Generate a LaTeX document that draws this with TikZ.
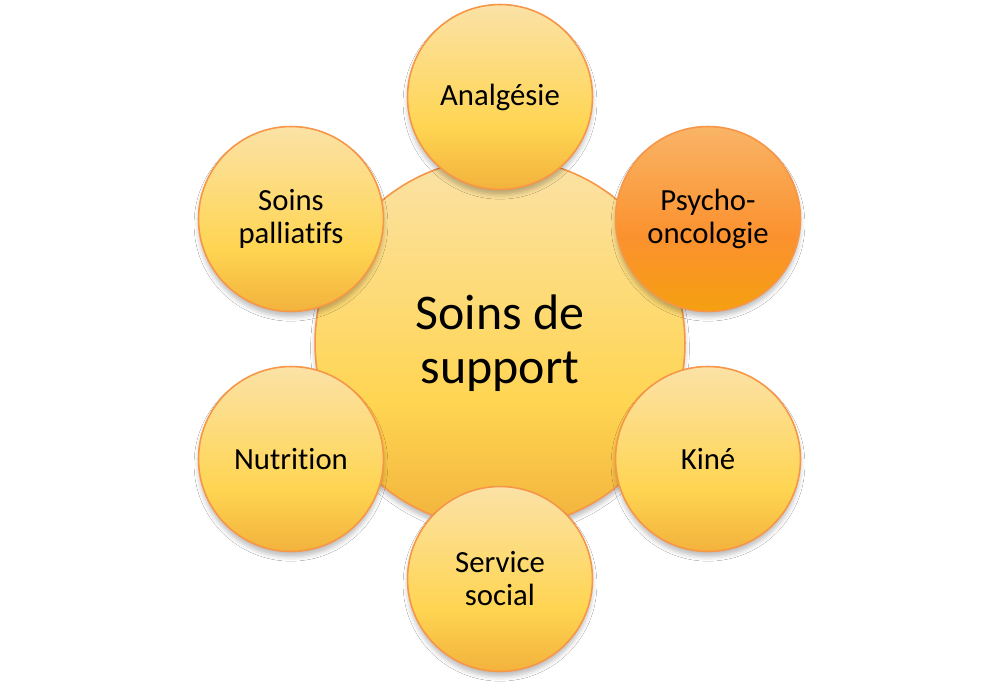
\documentclass[tikz,border=0pt]{standalone}
\usepackage{fontspec}
\setmainfont{Carlito}[Ligatures=NoCommon]
\usetikzlibrary{shadows.blur}
\definecolor{ytop}{HTML}{FBE2A6}
\definecolor{ymid}{HTML}{FFD552}
\definecolor{ybot}{HTML}{F2B23C}
\definecolor{otop}{HTML}{F9B466}
\definecolor{omid}{HTML}{FB912E}
\definecolor{obot}{HTML}{F5A010}
\definecolor{rim}{HTML}{F79646}
\pgfdeclareverticalshading{sunny}{100bp}{color(0bp)=(ybot); color(25bp)=(ybot); color(42bp)=(ymid); color(75bp)=(ytop); color(100bp)=(ytop)}
\pgfdeclareverticalshading{tangerine}{100bp}{color(0bp)=(obot); color(25bp)=(obot); color(45bp)=(omid); color(75bp)=(otop); color(100bp)=(otop)}
\tikzset{
  bubble/.style={circle, draw=rim, line width=0.9pt, shading=sunny, align=center,
    inner sep=0pt, text=black,
    blur shadow={shadow xshift=0pt, shadow yshift=-3pt, shadow blur radius=2.5pt, shadow opacity=25}},
  satellite/.style={bubble, minimum size=3.70cm, font=\fontsize{17.5}{18.8}\selectfont},
  hub/.style={bubble, minimum size=7.40cm, font=\fontsize{28.4}{30.5}\selectfont},
  accent/.style={shading=tangerine}
}
\begin{document}
\begin{tikzpicture}[x=0.02cm,y=-0.02cm]
\useasboundingbox[fill=white] (0,0) rectangle (1000,683);
\node[hub] (center) at (500,343) {Soins de\\support};
\node[satellite] (analgesie) at (500,97) {Analgésie};
\node[satellite, accent] (psycho) at (708,219) {Psycho-\\oncologie};
\node[satellite] (kine) at (708,459) {Kiné};
\node[satellite] (social) at (500,579) {Service\\social};
\node[satellite] (nutrition) at (291,459) {Nutrition};
\node[satellite] (palliatifs) at (291,219) {Soins\\palliatifs};
\end{tikzpicture}
\end{document}
